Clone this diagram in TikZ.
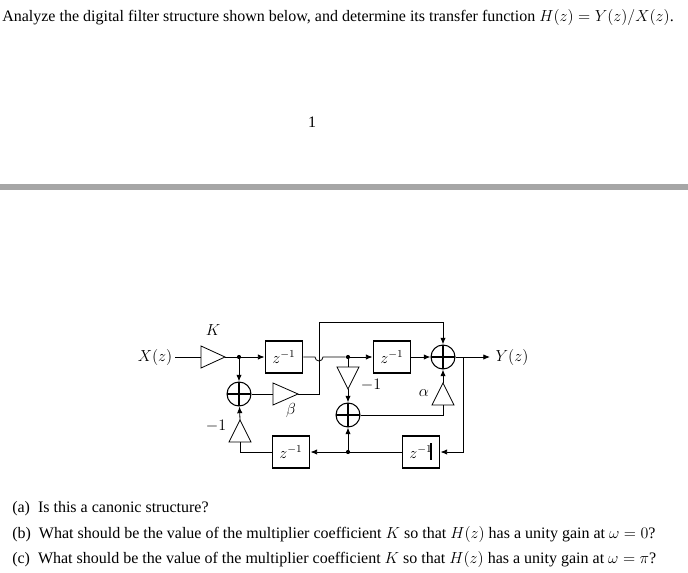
\documentclass[tikz,border=0pt]{standalone}
\usepackage{fontspec}
\setmainfont{Liberation Serif}
\usetikzlibrary{arrows.meta}
\begin{document}
\begin{tikzpicture}[x=0.75pt,y=-0.75pt,
  every node/.style={font=\fontsize{11.5}{13}\selectfont},
  box/.style={draw,line width=1.2pt,minimum width=28pt,minimum height=24pt,inner sep=0pt},
  sum/.style={draw,circle,minimum size=18pt,inner sep=0pt,line width=0.8pt,
    path picture={\draw[line width=0.8pt] (path picture bounding box.north)--(path picture bounding box.south) (path picture bounding box.west)--(path picture bounding box.east);}},
  dot/.style={circle,fill,inner sep=1.1pt},
  arr/.style={-{Latex[length=5pt,width=4pt]}},
  ln/.style={line width=0.6pt},
  txt/.style={font=\fontsize{12}{14}\selectfont,anchor=west,inner sep=0pt}]
\useasboundingbox (0,0) rectangle (688,573);
\node[txt] (title) at (2,18) {Analyze the digital filter structure shown below, and determine its transfer function $H(z)=Y(z)/X(z)$.};
\node[font=\fontsize{12}{14}\selectfont] (one) at (312,122) {1};
\fill[gray!70] (0,184) rectangle (688,190);
% nodes
\node (x) at (155,357) {$X(z)$};
\coordinate (xe) at (175,357);
\draw[ln] (201,346)--(225,357)--(201,368)--cycle;
\coordinate (kin) at (201,357); \coordinate (kout) at (225,357);
\node (k) at (213,330) {$K$};
\node[dot] (j1) at (239,357) {};
\node[box] (d1) at (284,357) {$z^{-1}$};
\node[dot] (j2) at (348,357) {};
\node[box] (d2) at (392,357) {$z^{-1}$};
\node[sum] (s3) at (443,357) {};
\coordinate (jo) at (463,357);
\node (y) at (512,357) {$Y(z)$};
\coordinate (ye) at (490,357);
\node[sum] (s1) at (239,394) {};
\draw[ln] (273,383)--(298,394)--(273,405)--cycle;
\coordinate (bin) at (273,394); \coordinate (bout) at (298,394);
\node (b) at (291,410) {$\beta$};
\coordinate (topL) at (319,322); \coordinate (topR) at (443,322);
\draw[ln] (229,442)--(240,420)--(251,442)--cycle;
\coordinate (m1top) at (240,420); \coordinate (m1bot) at (240,442);
\node (m1) at (216,426) {$-1$};
\node[box] (d3) at (291,452) {$z^{-1}$};
\draw[ln] (337,367)--(348,389)--(359,367)--cycle;
\coordinate (m2top) at (348,367); \coordinate (m2bot) at (348,389);
\node (m2) at (371,385) {$-1$};
\node[sum] (s2) at (348,415) {};
\node[dot] (j3) at (348,452) {};
\node[box] (d4) at (421,452) {$z^{-1}$};
\draw[ln] (432,405)--(443,383)--(454,405)--cycle;
\coordinate (atop) at (443,383); \coordinate (abot) at (443,405);
\node (a) at (424,393) {$\alpha$};
% connectors
\draw[ln] (xe)--(kin);
\draw[ln] (kout)--(j1);
\draw[ln,arr] (j1)--(d1);
\draw[ln] (d1)--(315,357) arc(180:0:4) -- (j2);
\draw[ln,arr] (j2)--(d2);
\draw[ln,arr] (d2)--(s3);
\draw[ln,arr] (s3)--(ye);
\draw[ln,arr] (j1)--(s1);
\draw[ln] (s1)--(bin);
\draw[ln] (bout)--(319,394)--(topL)--(topR);
\draw[ln,arr] (topR)--(s3);
\draw[ln,arr] (m1top)--(s1);
\draw[ln] (m1bot)--(240,452)--(d3);
\draw[ln,arr] (j3)--(d3);
\draw[ln] (j2)--(m2top);
\draw[ln,arr] (m2bot)--(s2);
\draw[ln,arr] (j3)--(s2);
\draw[ln] (s2)--(443,415)--(abot);
\draw[ln,arr] (atop)--(s3);
\draw[ln,arr] (jo)--(463,452)--(d4);
\draw[ln] (d4)--(j3);
\draw[line width=0.9pt] (431,443)--(431,460);
\node[txt] (qa) at (12,509) {(a)\ \ Is this a canonic structure?};
\node[txt] (qb) at (12,534) {(b)\ \ What should be the value of the multiplier coefficient $K$ so that $H(z)$ has a unity gain at $\omega=0$?};
\node[txt] (qc) at (12,559) {(c)\ \ What should be the value of the multiplier coefficient $K$ so that $H(z)$ has a unity gain at $\omega=\pi$?};
\end{tikzpicture}
\end{document}
